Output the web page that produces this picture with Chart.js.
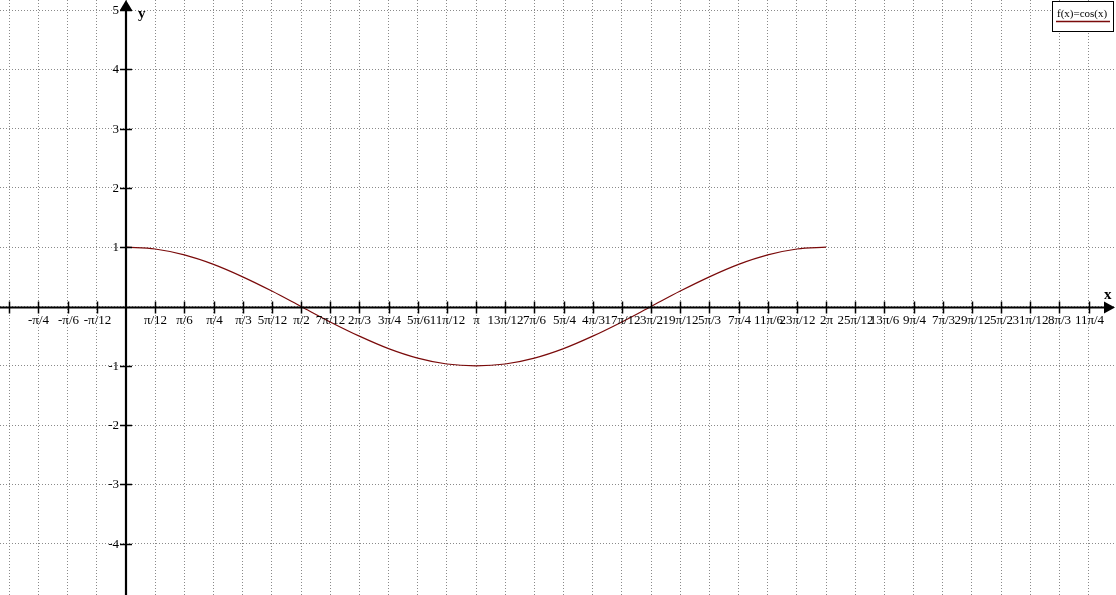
<!DOCTYPE html>
<html>
<head>
<meta charset="utf-8">
<script src="https://cdn.jsdelivr.net/npm/chart.js@4/dist/chart.umd.min.js"></script>
<style>
  html, body { margin: 0; padding: 0; background: #fff; }
  #wrap { width: 1116px; height: 595px; }
</style>
</head>
<body>
<div id="wrap"><canvas id="plot" width="1116" height="595"></canvas></div>
<script>
// ─── data (x in steps of π/12) ───
const xSteps = [0, 1, 2, 3, 4, 5, 6, 7, 8, 9, 10, 11, 12, 13, 14, 15, 16, 17, 18, 19, 20, 21, 22, 23, 24];
const yValues = [1, 0.97, 0.87, 0.71, 0.5, 0.26, 0, -0.26, -0.5, -0.71, -0.87, -0.97, -1,
                 -0.97, -0.87, -0.71, -0.5, -0.26, 0, 0.26, 0.5, 0.71, 0.87, 0.97, 1];

const tickStart = -4;
const tickLabels = ['', '-π/4', '-π/6', '-π/12', '', 'π/12', 'π/6', 'π/4', 'π/3', '5π/12', 'π/2',
  '7π/12', '2π/3', '3π/4', '5π/6', '11π/12', 'π', '13π/12', '7π/6', '5π/4', '4π/3', '17π/12',
  '3π/2', '19π/12', '5π/3', '7π/4', '11π/6', '23π/12', '2π', '25π/12', '13π/6', '9π/4', '7π/3',
  '29π/12', '5π/2', '31π/12', '8π/3', '11π/4'];
const yTicks = [-4, -3, -2, -1, 1, 2, 3, 4, 5];
const legendText = 'f(x)=cos(x)';

const curveColor = '#7a0a0a';
const serif = '"Liberation Serif", "DejaVu Serif", serif';

// ─── axes, arrows, labels ───
const axesPlugin = {
    id: 'axes',
    afterDatasetsDraw(chart) {
        const c = chart.ctx;
        const xs = chart.scales.x, ys = chart.scales.y;
        const x0 = Math.round(xs.getPixelForValue(0)), y0 = Math.round(ys.getPixelForValue(0)) + 0.5;
        const W = chart.width;
        c.save();
        c.strokeStyle = '#000';
        c.fillStyle = '#000';
        c.lineWidth = 2.2;
        c.beginPath();
        c.moveTo(0, y0); c.lineTo(W - 8, y0);
        c.moveTo(x0, chart.height); c.lineTo(x0, 8);
        c.stroke();
        // arrows
        c.beginPath();
        c.moveTo(W - 1, y0); c.lineTo(W - 12, y0 - 6); c.lineTo(W - 12, y0 + 6); c.closePath();
        c.fill();
        c.beginPath();
        c.moveTo(x0, 0); c.lineTo(x0 - 6, 10); c.lineTo(x0 + 6, 10); c.closePath();
        c.fill();
        // x ticks + labels
        c.lineWidth = 1.5;
        c.font = '13px ' + serif;
        c.textAlign = 'center';
        c.textBaseline = 'top';
        tickLabels.forEach((lab, i) => {
            const px = Math.round(xs.getPixelForValue(tickStart + i)) + 0.5;
            if (tickStart + i !== 0) {
                c.beginPath(); c.moveTo(px, y0 - 6); c.lineTo(px, y0 + 6); c.stroke();
            }
            if (lab) c.fillText(lab, px, y0 + 7);
        });
        // y ticks + labels
        c.textAlign = 'right';
        c.textBaseline = 'middle';
        yTicks.forEach(v => {
            const py = Math.round(ys.getPixelForValue(v)) + 0.5;
            c.beginPath(); c.moveTo(x0 - 6, py); c.lineTo(x0 + 6, py); c.stroke();
            c.fillText(String(v), x0 - 7, py);
        });
        // axis names
        c.font = 'bold 15px ' + serif;
        c.textAlign = 'left';
        c.textBaseline = 'alphabetic';
        c.fillText('x', W - 12, y0 - 9);
        c.fillText('y', x0 + 12, 18);
        // legend box
        c.fillStyle = '#fff';
        c.fillRect(1052, 1, 61, 30);
        c.strokeStyle = '#000';
        c.lineWidth = 1;
        c.strokeRect(1052.5, 1.5, 61, 30);
        c.fillStyle = '#000';
        c.font = '11px ' + serif;
        c.textAlign = 'left';
        c.fillText(legendText, 1057, 17);
        c.strokeStyle = curveColor;
        c.lineWidth = 1.5;
        c.beginPath(); c.moveTo(1056, 21.5); c.lineTo(1110, 21.5); c.stroke();
        c.restore();
    }
};

new Chart(document.getElementById('plot'), {
    type: 'scatter',
    data: {
        datasets: [{
            label: legendText,
            data: xSteps.map((x, i) => ({ x: x, y: yValues[i] })),
            showLine: true,
            borderColor: curveColor,
            borderWidth: 1.2,
            pointRadius: 0,
            cubicInterpolationMode: 'monotone'
        }]
    },
    options: {
        responsive: false,
        animation: false,
        devicePixelRatio: 1,
        layout: { padding: 0 },
        scales: {
            x: {
                type: 'linear',
                min: -126 / 29.17,
                max: 990 / 29.17,
                afterBuildTicks: s => {
                    s.ticks = [];
                    for (let v = -4; v <= 33; v++) s.ticks.push({ value: v });
                },
                ticks: { display: false },
                grid: { color: '#8a8a8a', lineWidth: 1, drawTicks: false },
                border: { display: false, dash: [1, 2] }
            },
            y: {
                type: 'linear',
                min: -(595 - 306.5) / 59.3,
                max: 306.5 / 59.3,
                afterBuildTicks: s => {
                    s.ticks = [];
                    for (let v = -4; v <= 5; v++) s.ticks.push({ value: v });
                },
                ticks: { display: false },
                grid: { color: '#8a8a8a', lineWidth: 1, drawTicks: false },
                border: { display: false, dash: [1, 2] }
            }
        },
        plugins: {
            legend: { display: false },
            tooltip: { enabled: false }
        }
    },
    plugins: [axesPlugin]
});
</script>
</body>
</html>
